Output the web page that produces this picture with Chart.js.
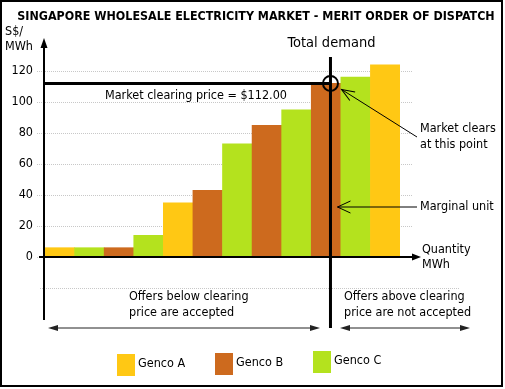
<!DOCTYPE html>
<html>
<head>
<meta charset="utf-8">
<script src="https://cdn.jsdelivr.net/npm/chart.js@4.4.1/dist/chart.umd.min.js"></script>
<style>
    body { margin: 0; background: #fff; }
    #wrap { width: 505px; height: 389px; }
</style>
</head>
<body>
<div id="wrap"><canvas id="meritChart" width="505" height="389"></canvas></div>
<script>
// offers in merit order (cheapest first)
const offerLabels = ["1", "2", "3", "4", "5", "6", "7", "8", "9", "10", "11", "12"];
const offerPrices = [6, 6, 6, 14, 35, 43, 73, 85, 95, 112, 116, 124];
const offerGencos = ["Genco A", "Genco C", "Genco B", "Genco C", "Genco A", "Genco B",
                     "Genco C", "Genco B", "Genco C", "Genco B", "Genco C", "Genco A"];

const gencoNames = ["Genco A", "Genco B", "Genco C"];
const gencoColors = ["#ffc814", "#cd6a1e", "#b4e21e"];

const yTicks = [0, 20, 40, 60, 80, 100, 120];
const clearingPrice = 112;
const demandPosition = 9.15;   // where total demand cuts the offer stack (offer index)

const chartTitle = "SINGAPORE WHOLESALE ELECTRICITY MARKET - MERIT ORDER OF DISPATCH";
const FONT = "'DejaVu Sans Condensed', 'Liberation Sans', sans-serif";

function colorFor(genco) {
    return gencoColors[gencoNames.indexOf(genco)];
}

function arrowHead(ctx, x, y, angle, len, half, filled) {
    ctx.save();
    ctx.translate(x, y);
    ctx.rotate(angle);
    ctx.beginPath();
    ctx.moveTo(-len, -half);
    ctx.lineTo(0, 0);
    ctx.lineTo(-len, half);
    if (filled) {
        ctx.closePath();
        ctx.fill();
    } else {
        ctx.stroke();
    }
    ctx.restore();
}

function text(ctx, str, x, y, align) {
    ctx.textAlign = align || "left";
    ctx.fillText(str, x, y);
}

const gridPlugin = {
    id: "grid",
    beforeDatasetsDraw(chart) {
        const ctx = chart.ctx;
        const y = chart.scales.y;
        ctx.save();
        ctx.strokeStyle = "#c8c8c8";
        ctx.lineWidth = 1;
        ctx.setLineDash([1, 1]);
        yTicks.forEach(v => {
            const py = Math.round(y.getPixelForValue(v)) + 0.5;
            ctx.beginPath();
            ctx.moveTo(37, py);
            ctx.lineTo(412, py);
            ctx.stroke();
        });
        const py = Math.round(y.getPixelForValue(-20)) + 0.5;
        ctx.beginPath();
        ctx.moveTo(40, py);
        ctx.lineTo(460, py);
        ctx.stroke();
        ctx.restore();
    }
};

const annotationPlugin = {
    id: "annotations",
    afterDraw(chart) {
        const ctx = chart.ctx;
        const x = chart.scales.x;
        const y = chart.scales.y;
        const area = chart.chartArea;
        const zeroY = y.getPixelForValue(0);
        const priceY = y.getPixelForValue(clearingPrice);
        const demandX = x.getPixelForValue(demandPosition);

        ctx.save();
        ctx.fillStyle = "#000";
        ctx.strokeStyle = "#000";
        ctx.textBaseline = "middle";

        // frame
        ctx.lineWidth = 2;
        ctx.strokeRect(1, 1, 501, 385);

        // title, fitted to the width
        let size = 12;
        ctx.font = "bold " + size + "px " + FONT;
        size = size * 478 / ctx.measureText(chartTitle).width;
        ctx.font = "bold " + size.toFixed(2) + "px " + FONT;
        text(ctx, chartTitle, 256, 17, "center");

        ctx.font = "12.5px " + FONT;
        // y axis
        ctx.lineWidth = 2;
        ctx.beginPath();
        ctx.moveTo(area.left - 1, area.bottom + 1);
        ctx.lineTo(area.left - 1, area.top + 4);
        ctx.stroke();
        arrowHead(ctx, area.left - 1, area.top - 2, -Math.PI / 2, 10, 3.5, true);
        text(ctx, "S$/", 5, 32);
        text(ctx, "MWh", 5, 47);

        // x axis
        ctx.beginPath();
        ctx.moveTo(39, zeroY);
        ctx.lineTo(414, zeroY);
        ctx.stroke();
        arrowHead(ctx, 421, zeroY, 0, 9, 3.5, true);
        text(ctx, "Quantity", 422, 250);
        text(ctx, "MWh", 422, 265);

        // clearing price line
        ctx.lineWidth = 3;
        ctx.beginPath();
        ctx.moveTo(area.left - 1, priceY);
        ctx.lineTo(demandX, priceY);
        ctx.stroke();
        text(ctx, "Market clearing price = $" + clearingPrice.toFixed(2), 105, 96);

        // total demand line
        ctx.beginPath();
        ctx.moveTo(demandX, 57);
        ctx.lineTo(demandX, 328);
        ctx.stroke();
        ctx.font = "14.5px " + FONT;
        text(ctx, "Total demand", demandX + 1, 43, "center");
        ctx.font = "12.5px " + FONT;

        // clearing point circle
        ctx.lineWidth = 2;
        ctx.beginPath();
        ctx.arc(demandX, priceY, 7.5, 0, Math.PI * 2);
        ctx.stroke();

        // callouts
        ctx.lineWidth = 1;
        const tipX = demandX + 11, tipY = priceY + 6;
        ctx.beginPath();
        ctx.moveTo(417, 137);
        ctx.lineTo(tipX, tipY);
        ctx.stroke();
        arrowHead(ctx, tipX, tipY, Math.atan2(tipY - 137, tipX - 417), 13, 5, false);
        text(ctx, "Market clears", 420, 129);
        text(ctx, "at this point", 420, 145);

        ctx.beginPath();
        ctx.moveTo(417, 207);
        ctx.lineTo(demandX + 7, 207);
        ctx.stroke();
        arrowHead(ctx, demandX + 7, 207, Math.PI, 13, 6, false);
        text(ctx, "Marginal unit", 420, 207);

        // accepted / not accepted
        text(ctx, "Offers below clearing", 129, 297);
        text(ctx, "price are accepted", 129, 313);
        text(ctx, "Offers above clearing", 344, 297);
        text(ctx, "price are not accepted", 344, 313);

        ctx.strokeStyle = "#222";
        ctx.fillStyle = "#222";
        [[48, 320], [340, 470]].forEach(([a, b]) => {
            ctx.beginPath();
            ctx.moveTo(a + 4, 328);
            ctx.lineTo(b - 4, 328);
            ctx.stroke();
            arrowHead(ctx, a, 328, Math.PI, 10, 3, true);
            arrowHead(ctx, b, 328, 0, 10, 3, true);
        });

        // legend
        const legendX = [117, 215, 313];
        const legendY = [365, 364, 362];
        gencoNames.forEach((name, i) => {
            ctx.fillStyle = gencoColors[i];
            ctx.fillRect(legendX[i], legendY[i] - 11, 18, 22);
            ctx.fillStyle = "#000";
            text(ctx, name, legendX[i] + 21, legendY[i] - 1);
        });

        ctx.restore();
    }
};

new Chart(document.getElementById("meritChart"), {
    type: "bar",
    data: {
        labels: offerLabels,
        datasets: [{
            label: "Offer price",
            data: offerPrices,
            backgroundColor: offerGencos.map(colorFor),
            borderWidth: 0,
            categoryPercentage: 1,
            barPercentage: 1
        }]
    },
    options: {
        responsive: false,
        animation: false,
        layout: { padding: { left: 1, right: 105, top: 40, bottom: 70 } },
        plugins: {
            legend: { display: false },
            tooltip: { enabled: false },
            title: { display: false }
        },
        scales: {
            x: { display: false },
            y: {
                min: -40,
                max: 140,
                afterFit(scale) { scale.width = 44; },
                grid: { display: false },
                border: { display: false },
                ticks: {
                    stepSize: 20,
                    padding: 4,
                    color: "#000",
                    font: { family: FONT, size: 12.5 },
                    callback: v => yTicks.includes(v) ? v : ""
                }
            }
        }
    },
    plugins: [gridPlugin, annotationPlugin]
});
</script>
</body>
</html>
